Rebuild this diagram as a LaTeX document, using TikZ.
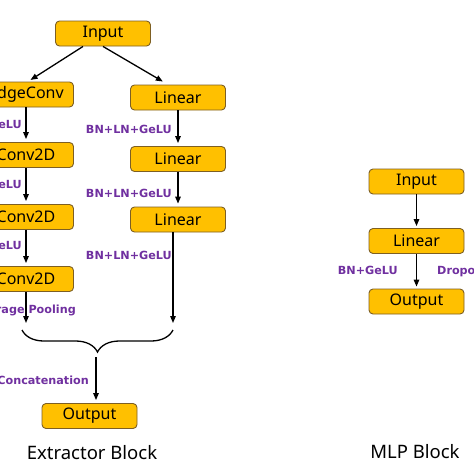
\documentclass[tikz,border=0pt]{standalone}
\usepackage{fontspec}
\setmainfont{Noto Sans}
\newfontfamily\opfont{DejaVu Sans}
\usetikzlibrary{positioning,calc}
\usetikzlibrary{arrows.meta,decorations.pathreplacing}
\definecolor{BoxGold}{RGB}{255,192,0}
\definecolor{BoxRim}{RGB}{125,95,35}
\definecolor{OpPurple}{RGB}{112,48,160}
\tikzset{
  blk/.style={draw=BoxRim,fill=BoxGold,rounded corners=4pt,line width=0.9pt,inner sep=0pt,
    minimum width=95pt,minimum height=25pt,font=\fontsize{16}{18}\selectfont},
  op/.style={text=OpPurple,inner sep=0pt,font=\opfont\bfseries\fontsize{11.2}{13}\selectfont},
  ttl/.style={inner sep=0pt,font=\fontsize{18.5}{20}\selectfont},
  arr/.style={draw=black,line width=1.3pt,shorten >=3pt,-{Triangle[length=7pt,width=5.5pt]}},
}

\begin{document}
\begin{tikzpicture}[x=1pt,y=-1pt]
\useasboundingbox[fill=white] (0,0) rectangle (474,474);
\clip (0,0) rectangle (474,474);
\node[blk](in) at (103,33.5){Input};
\node[blk](edge) at (26,94.5){EdgeConv};\node[blk](lin1) at (178,97.5){Linear};
\node[blk](cv1) at (26,155){Conv2D};\node[blk](lin2) at (178,159){Linear};
\node[blk](cv2) at (26,217){Conv2D};\node[blk](lin3) at (178,219.5){Linear};
\node[blk](cv3) at (26,279){Conv2D};
\node[blk](out) at (89.5,416){Output};
\draw[arr]($(in.south)+(-20,0)$)--($(edge.north)+(2,0)$);
\draw[arr,shorten >=6pt]($(in.south)+(0,0)$)--($(lin1.north)+(-10,0)$);
\draw[arr](edge)--(cv1);\draw[arr](cv1)--(cv2);\draw[arr](cv2)--(cv3);
\draw[arr](lin1)--(lin2);\draw[arr](lin2)--(lin3);
\node[op,anchor=base east] at (22,128){GeLU};\node[op,anchor=base east] at (172,133){BN+LN+GeLU};
\node[op,anchor=base east] at (22,188){GeLU};\node[op,anchor=base east] at (172,197){BN+LN+GeLU};
\node[op,anchor=base east] at (22,249){GeLU};\node[op,anchor=base east] at (172,259){BN+LN+GeLU};
\node[op,anchor=base east] at (76,313){Average Pooling};
\coordinate (bl) at (22,330);\coordinate (br) at (173,330);\coordinate (tip) at (96,357);
\draw[arr,shorten >=7pt](cv3)--(cv3 |- bl);\draw[arr,shorten >=7pt](lin3.south -| br)--(br);
\draw[line width=1.3pt,decorate,decoration={brace,mirror,amplitude=22pt}](bl)--(br);
\draw[arr](tip)--(tip |- out.north);
\node[op,anchor=base east] at (89,384){Concatenation};
\node[ttl,anchor=base] at (92,459){Extractor Block};
\node[blk](min) at (416.5,181.5){Input};
\node[blk](mlin) at (416.5,241){Linear};
\node[blk](mout) at (416.5,301.5){Output};
\draw[arr,shorten >=2pt](min)--(mlin);\draw[arr,shorten >=2pt](mlin)--(mout);
\node[op,anchor=base east] at (398,274){BN+GeLU};\node[op,anchor=base west] at (437,274){Dropout};
\node[ttl,anchor=base] at (415,458){MLP Block};
\end{tikzpicture}
\end{document}
